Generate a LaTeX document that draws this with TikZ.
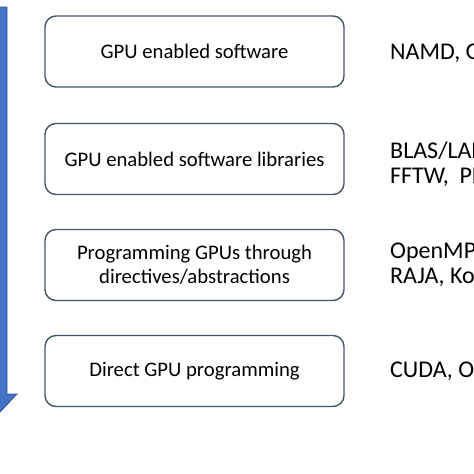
\documentclass[tikz,border=0pt]{standalone}
\usepackage{fontspec}
\setmainfont{Carlito}
\definecolor{arrowblue}{HTML}{4472C4}
\definecolor{arrowedge}{HTML}{2F528F}
\definecolor{boxedge}{HTML}{44546A}
\tikzset{
  layerbox/.style={draw=boxedge, line width=1.4pt, rounded corners=11pt, minimum width=299pt, minimum height=71pt, align=center, inner sep=0pt, font=\fontsize{20.7}{24}\selectfont},
  sidetext/.style={anchor=base west, inner sep=0pt, align=left, font=\fontsize{24}{25}\selectfont}
}
\begin{document}
\begin{tikzpicture}[x=1pt,y=-1pt]
\useasboundingbox (0,0) rectangle (474,474);
\clip (0,0) rectangle (474,474);
\fill[arrowblue, draw=arrowedge, line width=0.8pt] (-7,7) -- (7,7) -- (7,394) -- (17,394) -- (0,412) -- (-17,394) -- (-7,394) -- cycle;
\node[layerbox] (b1) at (194.5,51.5) {GPU enabled software};
\node[layerbox] (b2) at (194.5,159) {GPU enabled software libraries};
\node[layerbox] (b3) at (194.5,265) {Programming GPUs through\\directives/abstractions};
\node[layerbox] (b4) at (194.5,371) {Direct GPU programming};
\node[sidetext] (t1) at (390,59) {NAMD, GROMACS};
\node[sidetext] (t2) at (390,183) {BLAS/LAPACK\\FFTW,\ \ PETSc};
\node[sidetext] (t3) at (390,283) {OpenMP\\RAJA, Kokkos};
\node[sidetext] (t4) at (390,377) {CUDA, OpenCL};
\end{tikzpicture}
\end{document}
